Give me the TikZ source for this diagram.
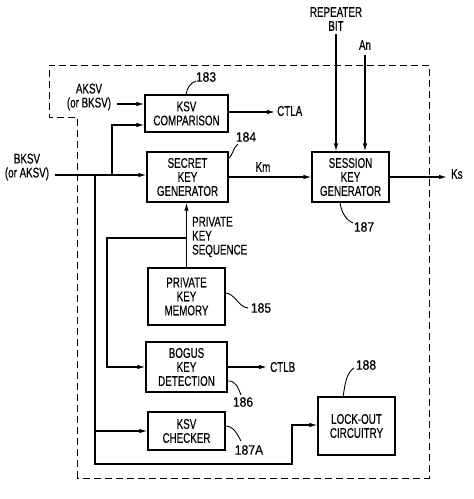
\documentclass[tikz,border=0pt]{standalone}
\usepackage{fontspec}
\setmainfont{Liberation Sans}[FakeStretch=0.7,FakeBold=0.4]
\newfontfamily\numfont{Liberation Sans}[FakeStretch=0.9,FakeBold=0.4]
\usetikzlibrary{arrows.meta}
\begin{document}
\begin{tikzpicture}[x=1pt,y=-1pt,
  blk/.style={draw, line width=1.2pt, align=center, inner sep=0pt, font=\fontsize{14}{14}\selectfont},
  lbl/.style={align=center, inner sep=0pt, font=\fontsize{14}{14}\selectfont},
  num/.style={inner sep=0pt, font=\numfont\fontsize{13.5}{14}\selectfont},
  wire/.style={line width=1.2pt},
  arr/.style={wire, -{Latex[length=8pt,width=4.5pt]}},
  lead/.style={line width=0.9pt},
  bound/.style={line width=1pt, dash pattern=on 7pt off 4pt},
]
\useasboundingbox (0,0) rectangle (474,499);

% dashed enclosure
\draw[bound] (77,478) -- (77,117) -- (49,117) -- (49,65) -- (429,65) -- (429,478) -- cycle;

% blocks
\node[blk, minimum width=83pt, minimum height=37pt] (kc) at (186.5,113.5) {KSV\\COMPARISON};
\node[blk, minimum width=81pt, minimum height=50pt] (skg) at (187.5,177) {SECRET\\KEY\\GENERATOR};
\node[blk, minimum width=77pt, minimum height=50pt] (ssk) at (350.5,177) {SESSION\\KEY\\GENERATOR};
\node[blk, minimum width=77pt, minimum height=57pt] (pkm) at (186.5,296.5) {PRIVATE\\KEY\\MEMORY};
\node[blk, minimum width=81pt, minimum height=50pt] (bkd) at (186.5,367) {BOGUS\\KEY\\DETECTION};
\node[blk, minimum width=77pt, minimum height=38pt] (kch) at (186.5,431) {KSV\\CHECKER};
\node[blk, minimum width=77pt, minimum height=58pt] (lo) at (356.5,426) {LOCK-OUT\\CIRCUITRY};

% labels
\node[lbl] (aksv) at (89,97) {AKSV\\(or BKSV)};
\node[lbl] (bksv) at (27,167) {BKSV\\(or AKSV)};
\node[lbl] (rep) at (336,19) {REPEATER\\BIT};
\node[lbl] (an) at (365,45) {An};
\node[lbl, anchor=west] (ctla) at (277,111) {CTLA};
\node[lbl] (km) at (263,167) {Km};
\node[lbl, anchor=west] (ks) at (451,174) {Ks};
\node[lbl, anchor=west, align=left] (pks) at (192,237) {PRIVATE\\KEY\\SEQUENCE};
\node[lbl, anchor=west] (ctlb) at (270,367) {CTLB};

% reference numbers
\node[num] (n183) at (206,77) {183};
\node[num] (n184) at (246,137) {184};
\node[num] (n187) at (364,227) {187};
\node[num] (n185) at (261,308) {185};
\node[num] (n186) at (243,402) {186};
\node[num] (n187a) at (249,450) {187A};
\node[num] (n188) at (366,365) {188};

% coordinates
\coordinate (a1) at (117,104);
\coordinate (b0) at (55,175);
\coordinate (j1) at (112,175);
\coordinate (j1u) at (112,125);
\coordinate (j2) at (95,175);
\coordinate (j2b) at (95,464);
\coordinate (j2c) at (95,431);
\coordinate (lb) at (292,464);
\coordinate (lu) at (292,425);
\coordinate (ps) at (187,238);
\coordinate (pl) at (107,238);
\coordinate (pb) at (107,367);
\coordinate (rp) at (336,34);
\coordinate (anp) at (365,55);
\coordinate (ksend) at (447,177);
\coordinate (ctlaend) at (275,112);
\coordinate (ctlbend) at (267,367);

% connectors
\draw[arr] (a1) -- (a1 -| kc.west);
\draw[arr] (b0) -- (b0 -| skg.west);
\draw[arr] (j1) -- (j1u) -- (j1u -| kc.west);
\draw[arr] (j2) -- (j2b) -- (lb) -- (lu) -- (lu -| lo.west);
\draw[arr] (j2c) -- (j2c -| kch.west);
\draw[arr] (skg.east) -- (ssk.west);
\draw[arr] (rp) -- (rp |- ssk.north);
\draw[arr] (anp) -- (anp |- ssk.north);
\draw[arr] (ssk.east) -- (ksend);
\draw[arr] (kc.east |- ctlaend) -- (ctlaend);
\draw[arr] (pkm.north) -- (pkm.north |- skg.south);
\draw[arr] (ps) -- (pl) -- (pb) -- (pb -| bkd.west);
\draw[arr] (bkd.east |- ctlbend) -- (ctlbend);

% leaders
\draw[lead] (196,81) .. controls (190,83) and (187,88) .. (186,95);
\draw[lead] (238,144) .. controls (233,147) and (233,156) .. (228,159);
\draw[lead] (340,202) .. controls (341,212) and (346,220) .. (353,223);
\draw[lead] (225,293) .. controls (235,293) and (238,307) .. (248,308);
\draw[lead] (227,381) .. controls (236,380) and (238,388) .. (241,395);
\draw[lead] (225,426) .. controls (234,426) and (237,434) .. (241,441);
\draw[lead] (343,397) .. controls (345,385) and (346,373) .. (354,368);
\end{tikzpicture}
\end{document}
